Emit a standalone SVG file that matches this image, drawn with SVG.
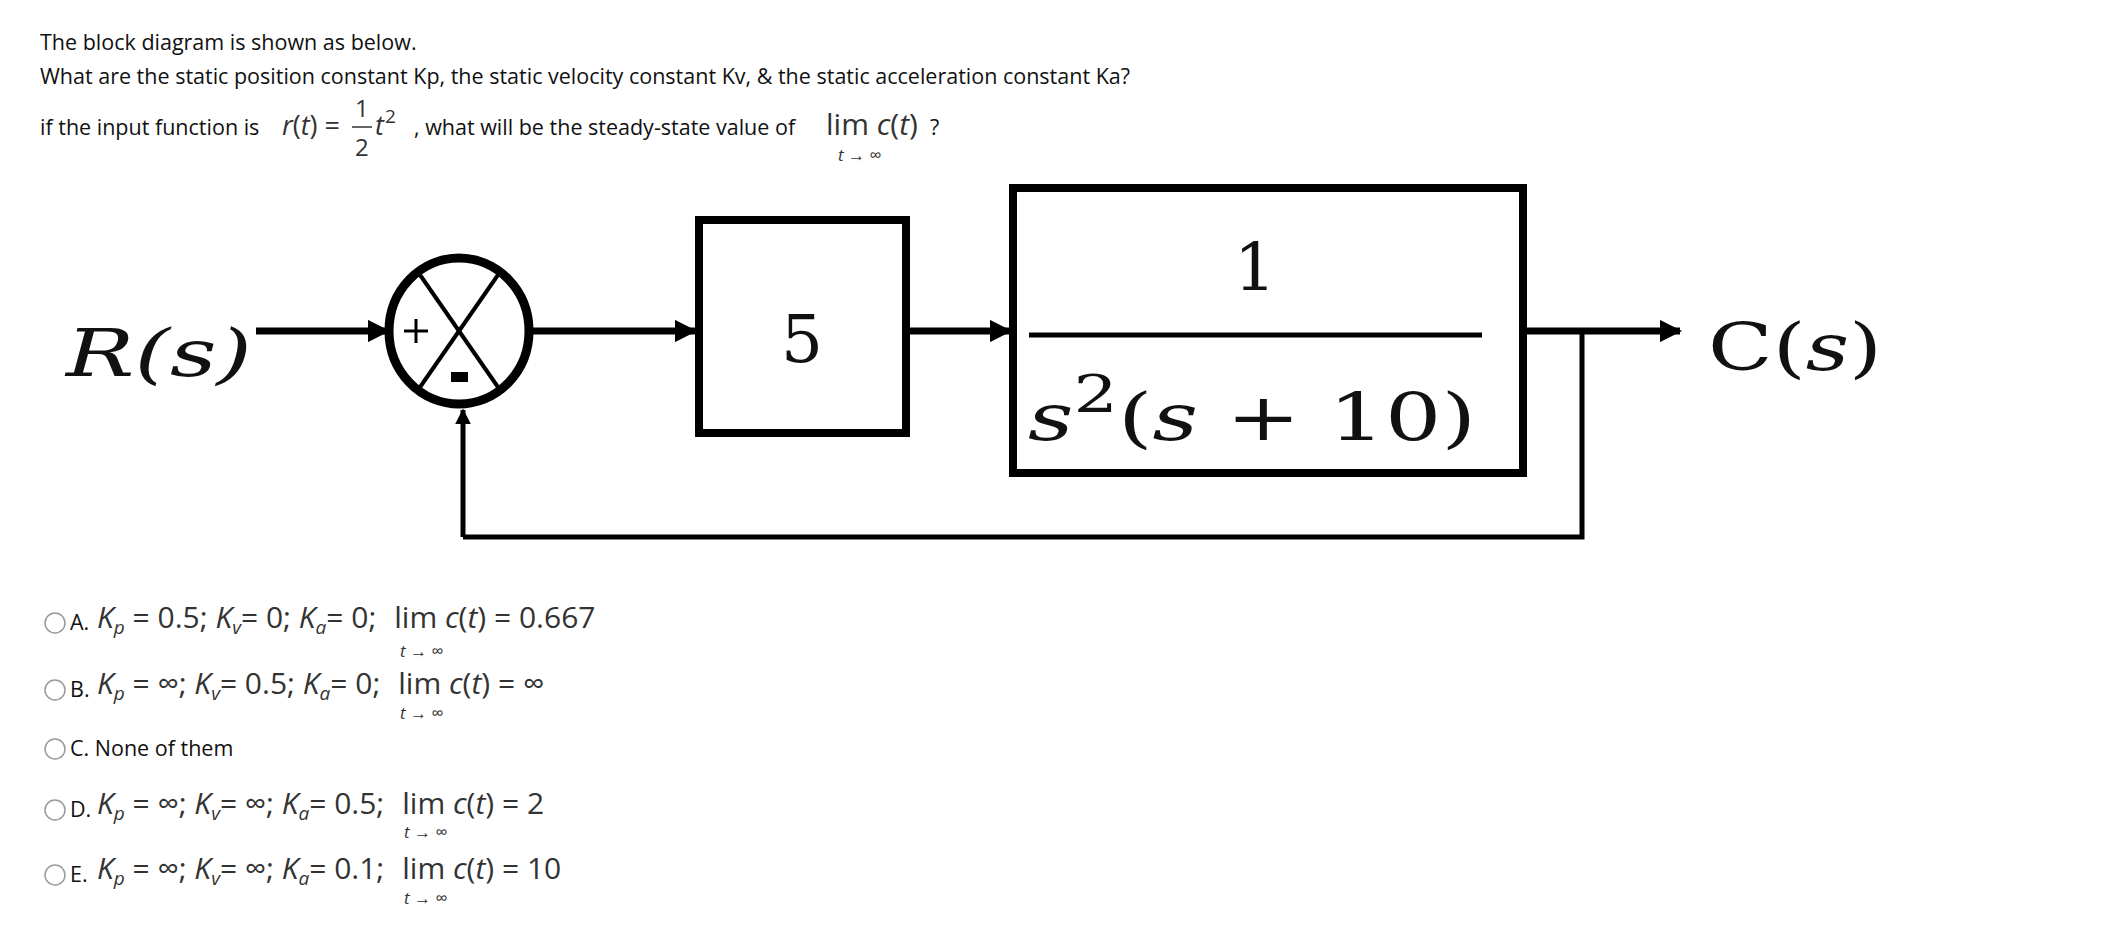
<svg xmlns="http://www.w3.org/2000/svg" width="2116" height="938" viewBox="0 0 2116 938">
<style>
.p{font-family:"Open Sans",sans-serif;font-size:21.5px;fill:#111}
.m{font-family:"Open Sans",sans-serif;font-size:30px;fill:#333}
.mi{font-style:italic}
.sub{font-size:19px}
.tl{font-family:"Open Sans",sans-serif;font-size:17px;fill:#333}
.big{font-family:"DejaVu Serif",serif;font-size:66px;fill:#111}
.ln{stroke:#000;stroke-width:7;fill:none}
.box{stroke:#000;stroke-width:8;fill:#fff}
.rb{fill:#fff;stroke:#999;stroke-width:1.5}
</style>
<defs>
<marker id="ah" viewBox="0 0 10 10" refX="9" refY="5" markerWidth="3.2" markerHeight="3.2" orient="auto"><path d="M0,0L10,5L0,10z" fill="#000"/></marker>
</defs>
<rect width="2116" height="938" fill="#fff"/>
<text class="p" x="40" y="50">The block diagram is shown as below.</text>
<text class="p" x="40" y="84">What are the static position constant Kp, the static velocity constant Kv, &amp; the static acceleration constant Ka?</text>
<text class="p" x="40" y="135">if the input function is</text>
<text class="m" x="282" y="135" style="font-size:27px"><tspan class="mi">r</tspan>(<tspan class="mi">t</tspan>) =</text>
<text class="m" x="355" y="117" style="font-size:24px">1</text>
<line x1="352" y1="127" x2="372" y2="127" stroke="#333" stroke-width="1.5"/>
<text class="m" x="355" y="156" style="font-size:24px">2</text>
<text class="m mi" x="375" y="135" style="font-size:27px">t</text>
<text class="m" x="385" y="123" style="font-size:19px">2</text>
<text class="p" x="414" y="135">, what will be the steady-state value of</text>
<text class="m" x="826" y="135">lim <tspan class="mi">c</tspan>(<tspan class="mi">t</tspan>)</text>
<text class="p" x="930" y="135">?</text>
<text class="tl" x="838" y="161"><tspan class="mi">t</tspan> → ∞</text>

<g id="R"><text class="big" x="66" y="376" font-size="90" font-style="italic" textLength="186" lengthAdjust="spacingAndGlyphs">R(s)</text></g>
<g id="sum">
<ellipse cx="459" cy="331" rx="70" ry="73" fill="#fff" stroke="#000" stroke-width="9"/>
<line x1="418" y1="272" x2="500" y2="390" stroke="#000" stroke-width="4"/>
<line x1="500" y1="272" x2="418" y2="390" stroke="#000" stroke-width="4"/>
<line x1="404" y1="331" x2="428" y2="331" stroke="#000" stroke-width="3"/>
<line x1="416" y1="319" x2="416" y2="343" stroke="#000" stroke-width="3"/>
<rect x="451" y="372" width="17" height="10" fill="#000"/>
</g>
<g id="gain"><rect class="box" x="699" y="220" width="207" height="213"/><text class="big" x="802" y="362" font-size="74" text-anchor="middle">5</text></g>
<g id="plant"><rect class="box" x="1013" y="188" width="510" height="285"/>
<text class="big" x="1255" y="290" font-size="74" text-anchor="middle">1</text>
<line x1="1029" y1="335" x2="1482" y2="335" stroke="#000" stroke-width="5"/>
<text class="big" x="1028" y="440" font-size="88" textLength="448" lengthAdjust="spacingAndGlyphs"><tspan font-style="italic">s</tspan><tspan dy="-28" font-size="52">2</tspan><tspan dy="28">(</tspan><tspan font-style="italic">s</tspan> + 10)</text>
</g>
<g id="C"><text class="big" x="1708" y="370" font-size="84" font-family="Liberation Sans" textLength="174" lengthAdjust="spacingAndGlyphs">C(<tspan font-style="italic">s</tspan>)</text></g>
<g id="connectors">
<line class="ln" x1="256" y1="331" x2="388" y2="331" marker-end="url(#ah)"/>
<line class="ln" x1="530" y1="331" x2="695" y2="331" marker-end="url(#ah)"/>
<line class="ln" x1="910" y1="331" x2="1010" y2="331" marker-end="url(#ah)"/>
<line class="ln" x1="1527" y1="331" x2="1680" y2="331" marker-end="url(#ah)"/>
<polyline points="1582,331 1582,537 463,537" stroke="#000" stroke-width="5" fill="none"/>
<line x1="463" y1="537" x2="463" y2="410" stroke="#000" stroke-width="5" marker-end="url(#ah)"/>
</g>

<g id="options">
<circle class="rb" cx="55" cy="623" r="10"/><text class="p" x="70" y="630">A.</text>
<text class="m" x="97" y="628"><tspan class="mi">K</tspan><tspan class="mi sub" dy="6">p</tspan><tspan dy="-6"> = 0.5; </tspan><tspan class="mi">K</tspan><tspan class="mi sub" dy="6">v</tspan><tspan dy="-6">= 0; </tspan><tspan class="mi">K</tspan><tspan class="mi sub" dy="6">a</tspan><tspan dy="-6">= 0;</tspan><tspan dx="18">lim </tspan><tspan class="mi">c</tspan>(<tspan class="mi">t</tspan>) = 0.667</text>
<text class="tl" x="400" y="657"><tspan class="mi">t</tspan> → ∞</text>

<circle class="rb" cx="55" cy="690" r="10"/><text class="p" x="70" y="697">B.</text>
<text class="m" x="97" y="694"><tspan class="mi">K</tspan><tspan class="mi sub" dy="6">p</tspan><tspan dy="-6"> = ∞; </tspan><tspan class="mi">K</tspan><tspan class="mi sub" dy="6">v</tspan><tspan dy="-6">= 0.5; </tspan><tspan class="mi">K</tspan><tspan class="mi sub" dy="6">a</tspan><tspan dy="-6">= 0;</tspan><tspan dx="18">lim </tspan><tspan class="mi">c</tspan>(<tspan class="mi">t</tspan>) = ∞</text>
<text class="tl" x="400" y="719"><tspan class="mi">t</tspan> → ∞</text>

<circle class="rb" cx="55" cy="749" r="10"/><text class="p" x="70" y="756">C. None of them</text>

<circle class="rb" cx="55" cy="810" r="10"/><text class="p" x="70" y="817">D.</text>
<text class="m" x="97" y="814"><tspan class="mi">K</tspan><tspan class="mi sub" dy="6">p</tspan><tspan dy="-6"> = ∞; </tspan><tspan class="mi">K</tspan><tspan class="mi sub" dy="6">v</tspan><tspan dy="-6">= ∞; </tspan><tspan class="mi">K</tspan><tspan class="mi sub" dy="6">a</tspan><tspan dy="-6">= 0.5;</tspan><tspan dx="18">lim </tspan><tspan class="mi">c</tspan>(<tspan class="mi">t</tspan>) = 2</text>
<text class="tl" x="404" y="838"><tspan class="mi">t</tspan> → ∞</text>

<circle class="rb" cx="55" cy="875" r="10"/><text class="p" x="70" y="882">E.</text>
<text class="m" x="97" y="879"><tspan class="mi">K</tspan><tspan class="mi sub" dy="6">p</tspan><tspan dy="-6"> = ∞; </tspan><tspan class="mi">K</tspan><tspan class="mi sub" dy="6">v</tspan><tspan dy="-6">= ∞; </tspan><tspan class="mi">K</tspan><tspan class="mi sub" dy="6">a</tspan><tspan dy="-6">= 0.1;</tspan><tspan dx="18">lim </tspan><tspan class="mi">c</tspan>(<tspan class="mi">t</tspan>) = 10</text>
<text class="tl" x="404" y="904"><tspan class="mi">t</tspan> → ∞</text>
</g>
</svg>
